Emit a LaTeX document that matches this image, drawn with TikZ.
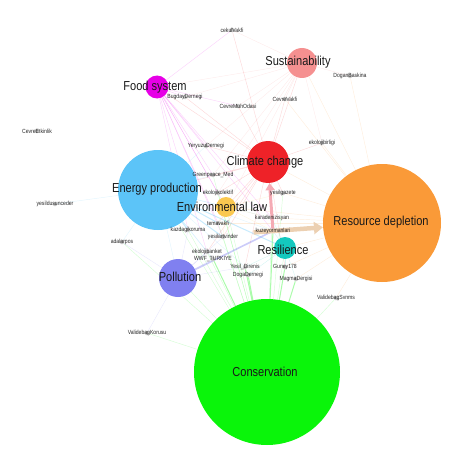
\documentclass[tikz,border=0pt]{standalone}
\usepackage{fontspec}
\setmainfont{Liberation Sans}[FakeStretch=0.85]
\usetikzlibrary{arrows.meta}
\pgfdeclarelayer{bg}
\pgfsetlayers{bg,main}
\definecolor{cCons}{RGB}{10,245,10}
\definecolor{cRes}{RGB}{250,154,56}
\definecolor{cEner}{RGB}{92,196,248}
\definecolor{cClim}{RGB}{238,34,40}
\definecolor{cSust}{RGB}{245,144,144}
\definecolor{cFood}{RGB}{230,0,230}
\definecolor{cLaw}{RGB}{250,200,80}
\definecolor{cResil}{RGB}{20,200,190}
\definecolor{cPoll}{RGB}{128,128,240}
\definecolor{cBeige}{RGB}{236,208,178}
\definecolor{cPink}{RGB}{245,170,180}
\begin{document}
\begin{tikzpicture}[x=1pt,y=-1pt,
  hub/.style={circle,inner sep=0pt,draw=none},
  hublab/.style={font=\fontsize{13}{13}\selectfont,inner sep=0pt,text=black!90},
  dot/.style={circle,fill=black!22,inner sep=0pt,minimum size=4.5pt},
  small/.style={font=\fontsize{6}{6}\selectfont,inner sep=0pt,text=black!85},
  edg/.style={line width=0.45pt,opacity=0.17},
  edgb/.style={line width=1.1pt,opacity=0.25}]
\useasboundingbox (0,0) rectangle (474,460);
% hubs
\node[hub,fill=cCons,minimum size=146pt] (cons) at (267,372) {};
\node[hub,fill=cRes,minimum size=118pt] (res) at (382,223) {};
\node[hub,fill=cEner,minimum size=80pt] (ener) at (158,190) {};
\node[hub,fill=cClim,minimum size=42pt] (clim) at (268,162) {};
\node[hub,fill=cSust,minimum size=30pt] (sust) at (302,63) {};
\node[hub,fill=cFood,minimum size=23pt] (food) at (157,87) {};
\node[hub,fill=cLaw,minimum size=20pt] (law) at (226,207) {};
\node[hub,fill=cResil,minimum size=22pt] (resil) at (285,248) {};
\node[hub,fill=cPoll,minimum size=38pt] (poll) at (178,278) {};
% small nodes
\foreach \n/\x/\y in {cekul/232/30,dogan/350/76,cvakfi/285/99,cmuh/238/106,bugday/185/97,
  yeryuzu/206/146,etkin/37/131,yesild/55/204,green/213/175,ekolk/218/193,ekolb/322/143,
  ygaz/283/193,karad/272/218,kuzey/273/231,tema/218/223,kazdag/188/230,artvin/223/237,
  adalar/122/242,banket/207/252,wwf/213/259,diren/245/267,doga/248/275,guney/285/267,
  magma/296/279,vsv/336/298,vkor/147/333}
  \node[dot] (\n) at (\x,\y) {};
% edges
\begin{pgfonlayer}{bg}
\foreach \t in {wwf,diren,doga,guney,magma,vsv,vkor,kazdag,artvin,kuzey,karad,tema,banket,resil,adalar,ekolk,green,poll,law,ygaz,ener}
  \draw[edg,cCons] (cons) -- (\t);
\foreach \t in {guney,magma,diren,doga,kuzey,wwf}
  \draw[edgb,cCons] (cons) -- (\t);
\foreach \t in {ekolb,ygaz,karad,resil,clim,magma,vsv,guney,law,tema,sust,cvakfi,dogan}
  \draw[edg,cRes] (res) -- (\t);
\foreach \t in {ekolb,sust,cvakfi,cmuh,yeryuzu,green,ekolk,ygaz,karad,kuzey,tema,food,ener,banket,law,artvin,bugday,diren,guney,cekul}
  \draw[edg,cClim] (clim) -- (\t);
\foreach \t in {cekul,dogan,cvakfi,cmuh,bugday,food,yeryuzu,ekolb,green,ekolk,law}
  \draw[edg,cSust] (sust) -- (\t);
\foreach \t in {bugday,yeryuzu,green,ekolk,tema,kazdag,artvin,law,cmuh,cekul,karad,kuzey,banket}
  \draw[edg,cFood] (food) -- (\t);
\foreach \t in {green,ekolk,law,tema,kazdag,artvin,banket,wwf,poll,adalar,yesild,karad,kuzey,resil,yeryuzu,diren}
  \draw[edg,cEner] (ener) -- (\t);
\foreach \t in {tema,kazdag,artvin,resil}
  \draw[edgb,cEner] (ener) -- (\t);
\foreach \t in {karad,kuzey,tema,ygaz,artvin}
  \draw[edg,cLaw] (law) -- (\t);
\foreach \t in {banket,wwf,kazdag,artvin,adalar,vkor,diren}
  \draw[edg,cPoll] (poll) -- (\t);
\draw[line width=1.6pt,cPoll,opacity=0.4] (poll) -- (kuzey);
\foreach \t in {guney,magma,diren,kuzey,karad,doga}
  \draw[edg,cResil] (resil) -- (\t);
\end{pgfonlayer}
% thick arrows
\draw[line width=4.5pt,cBeige,-{Triangle[length=9pt,width=12pt]},shorten <=-22pt] (kuzey) -- (res);
\draw[line width=3pt,cPink,-{Triangle[length=7pt,width=9pt]}] (kuzey) -- (clim);
% hub labels
\node[hublab] (consL) at (265,372) {Conservation};
\node[hublab] (resL) at (381,222) {Resource depletion};
\node[hublab] (enerL) at (157,189) {Energy production};
\node[hublab] (climL) at (265,162) {Climate change};
\node[hublab] (sustL) at (298,62) {Sustainability};
\node[hublab] (foodL) at (155,87) {Food system};
\node[hublab] (lawL) at (222,207) {Environmental law};
\node[hublab] (resilL) at (283,250) {Resilience};
\node[hublab] (pollL) at (180,277) {Pollution};
% small labels
\foreach \n/\t in {cekul/cekulVakfi,dogan/DoganBaskina,cvakfi/CevreVakfi,cmuh/CevreMuhOdasi,
  bugday/BugdayDernegi,yeryuzu/YeryuzuDernegi,etkin/CevreEtkinlik,yesild/yesildusunceder,
  green/Greenpeace\_Med,ekolk/ekolojikolektif,ekolb/ekolojibirligi,ygaz/yesilgazete,
  karad/karadenizisyan,kuzey/kuzeyormanlari,tema/temavakfi,kazdag/kazdagikoruma,
  artvin/yesilartvinder,adalar/adalarpos,banket/ekolojibanket,wwf/WWF\_TURKIYE,
  diren/Yesil\_Direnis,doga/DogaDernegi,guney/Guney178,magma/MagmaDergisi,
  vsv/ValidebagSvnms,vkor/ValidebagKorusu}
  \node[small] (\n L) at (\n) {\t};
\end{tikzpicture}
\end{document}
